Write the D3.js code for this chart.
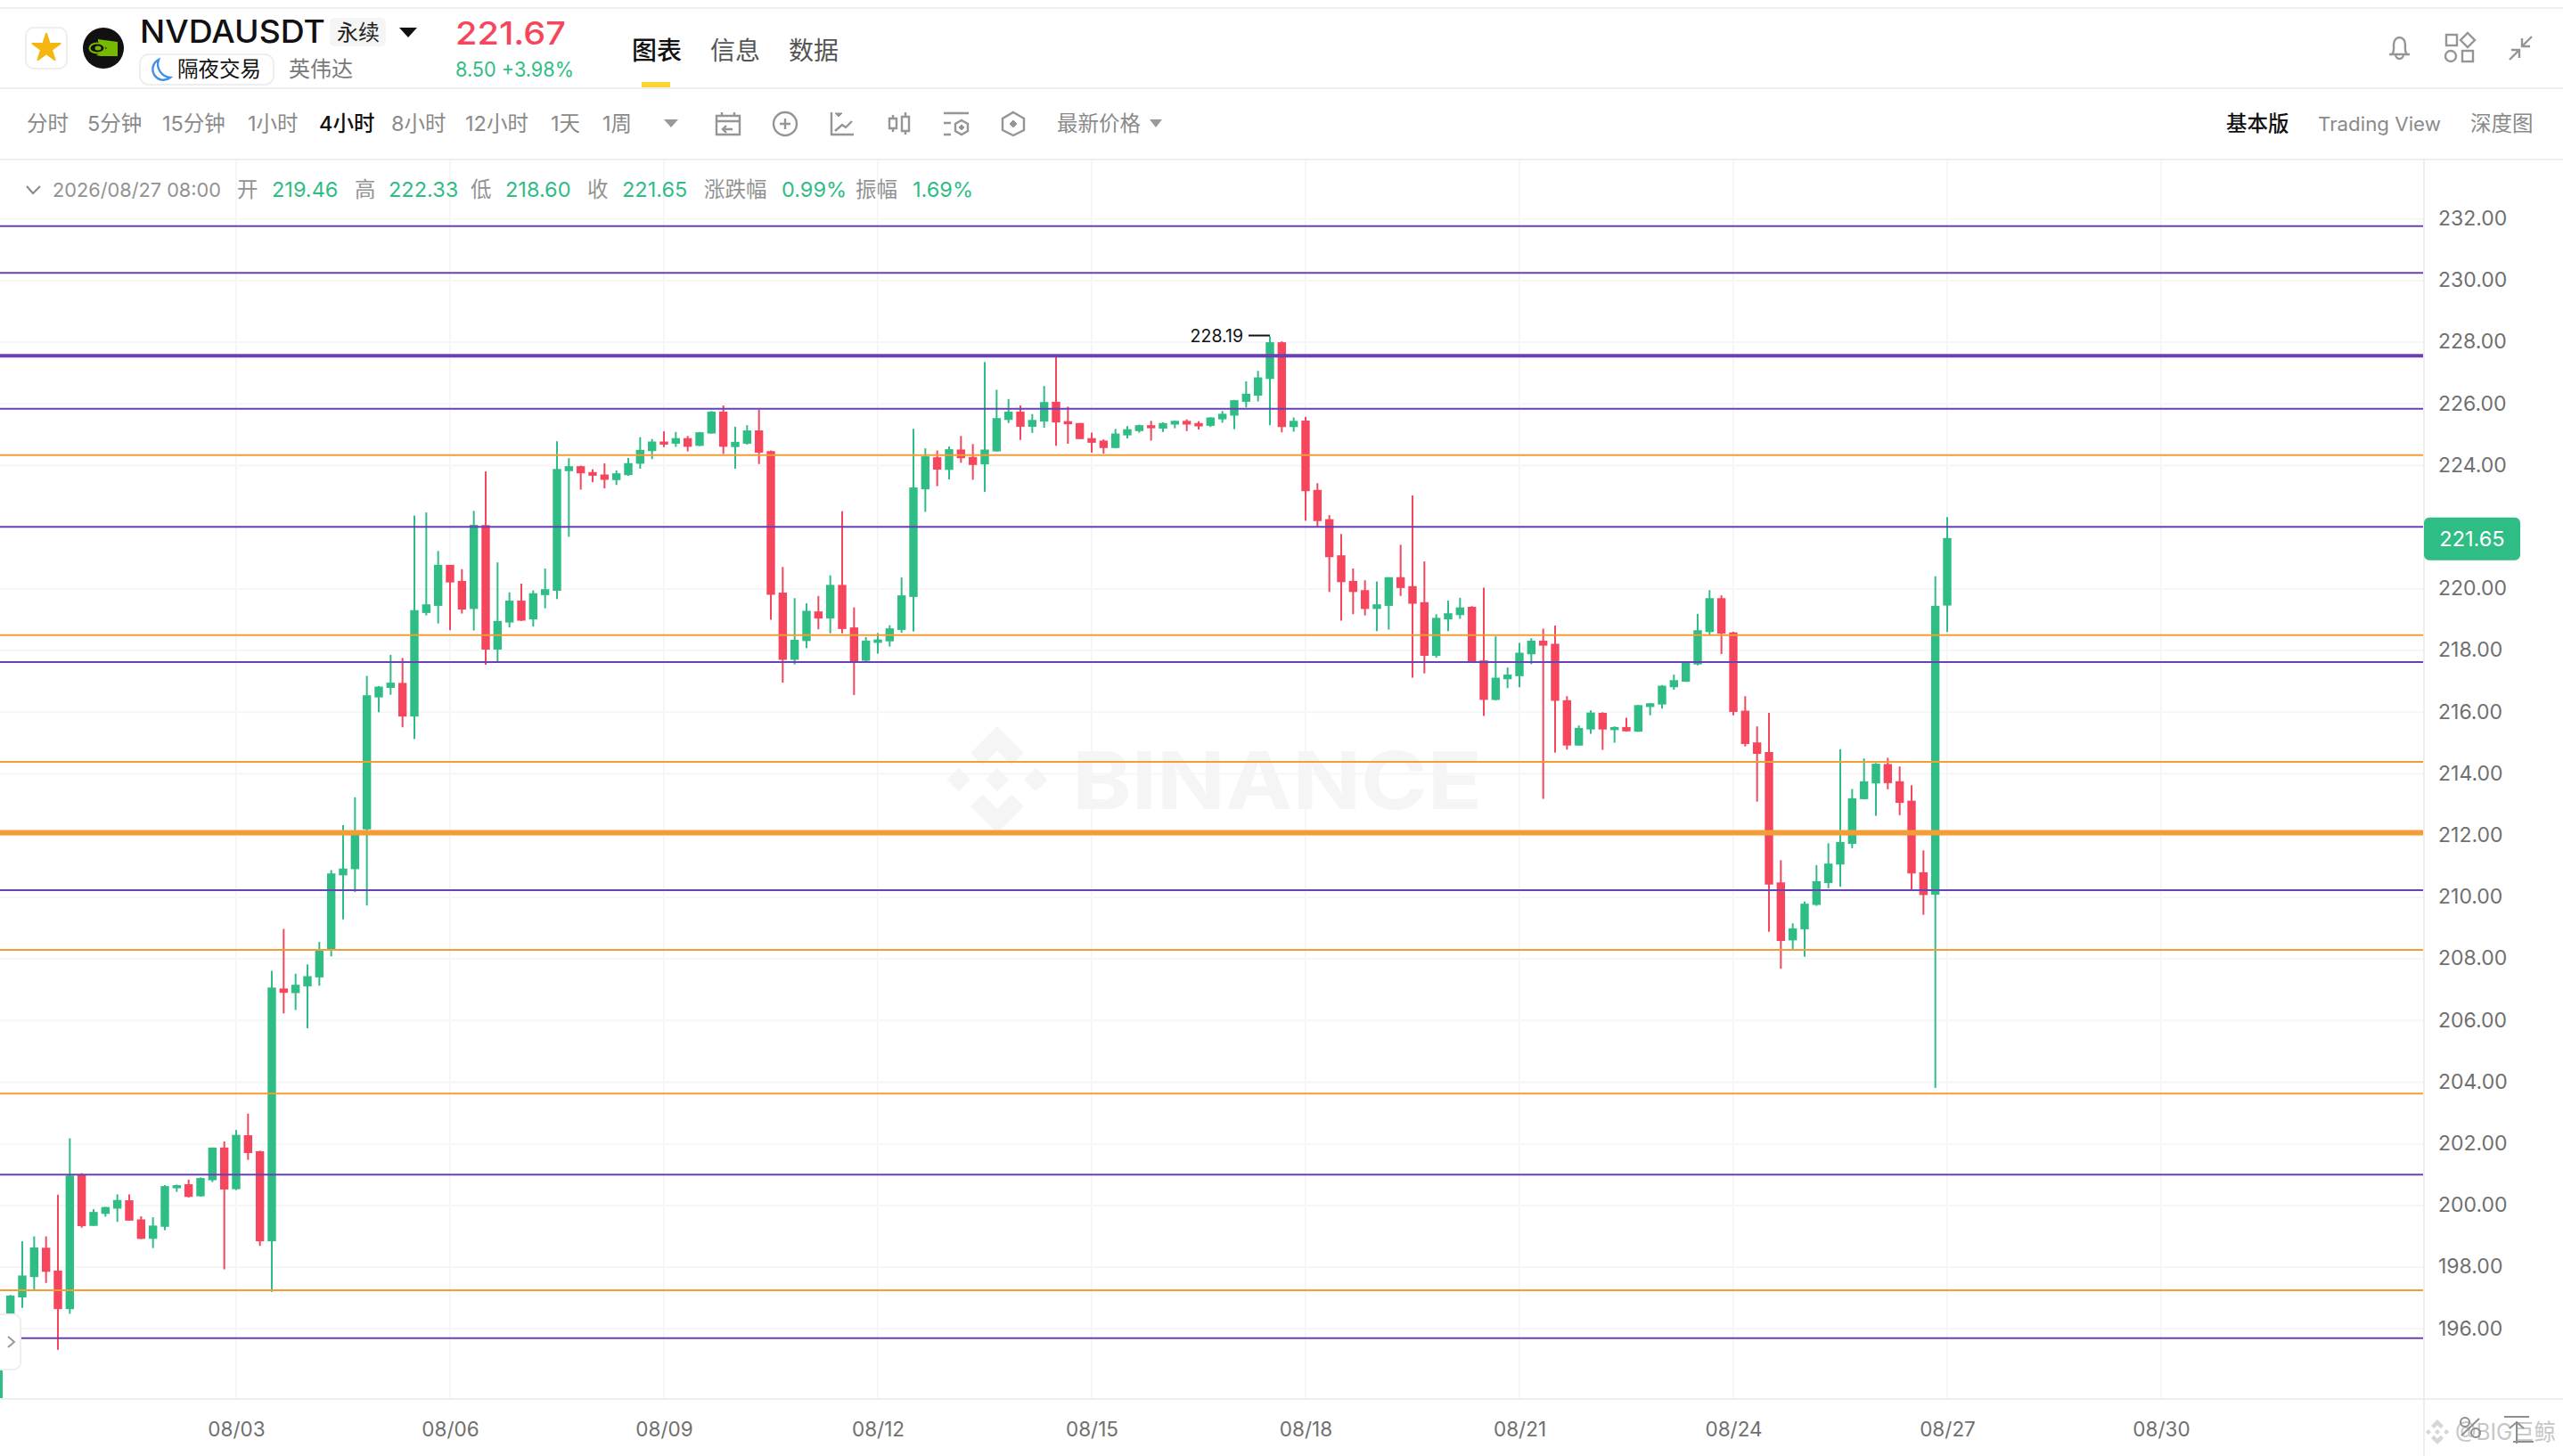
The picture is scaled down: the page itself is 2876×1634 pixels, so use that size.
<!DOCTYPE html>
<html><head><meta charset="utf-8">
<script src="https://cdn.jsdelivr.net/npm/d3@7/dist/d3.min.js"></script>
<style>
html,body{margin:0;padding:0;background:#fff;overflow:hidden}
svg{display:block}
text{font-family:"Inter","Noto Sans CJK SC",sans-serif}
</style></head><body>
<script>
const opens=[193.50,196.40,197.02,197.68,198.63,197.89,196.64,200.99,199.34,199.73,
199.90,200.17,199.55,198.92,199.31,200.56,200.69,200.30,200.82,201.88,
200.53,202.28,201.76,198.84,207.04,206.89,207.11,207.40,208.29,210.71,
210.91,212.20,216.48,216.79,216.95,215.86,219.22,219.45,220.78,220.26,
219.35,222.07,218.03,218.91,219.62,219.01,219.80,219.94,223.82,223.98,
223.79,223.71,223.53,223.69,224.06,224.47,224.78,224.71,224.89,224.64,
225.04,225.75,224.60,224.71,225.14,224.47,219.88,217.70,218.31,219.27,
219.04,220.13,218.75,217.67,218.25,218.30,218.67,219.74,223.23,224.27,
223.86,224.52,224.28,224.04,224.46,225.48,225.75,225.26,225.43,226.07,
225.44,225.38,224.89,224.81,224.57,224.98,225.12,225.31,225.20,225.33,
225.45,225.38,225.29,225.50,225.62,226.07,226.27,226.81,228.00,225.25,
225.46,223.21,222.26,221.09,220.26,219.96,219.35,219.45,220.38,220.09,
219.57,217.83,219.01,219.15,219.42,217.68,216.40,217.07,217.17,217.88,
218.32,218.22,216.39,214.92,215.44,215.98,215.42,215.52,215.37,216.17,
216.25,216.81,216.99,217.55,218.60,219.70,218.59,216.05,215.02,214.71,
210.48,208.60,208.96,209.75,210.46,211.06,211.73,213.18,213.69,214.32,
213.76,213.13,210.81,210.08,219.46];
const highs=[196.35,197.10,198.84,199.00,199.00,200.35,202.18,201.05,199.88,199.96,
200.36,200.36,199.65,199.62,200.66,200.68,200.84,200.91,201.88,202.08,
202.45,202.98,201.78,207.61,208.97,207.52,207.82,208.55,210.88,212.34,
213.24,217.18,216.85,217.86,217.76,222.38,222.48,221.23,220.78,220.64,
222.53,223.81,220.86,219.89,220.17,219.95,220.66,224.79,224.24,224.00,
223.88,224.07,223.84,224.25,224.92,224.86,225.11,225.09,224.96,225.09,
225.77,225.95,225.26,225.31,225.81,224.49,220.71,219.70,219.53,219.77,
220.44,222.52,219.40,218.44,218.57,218.82,220.37,225.19,224.56,224.49,
224.62,224.96,224.70,227.36,226.46,226.16,225.95,225.67,226.58,227.52,
225.91,225.38,225.07,224.85,225.19,225.28,225.33,225.45,225.40,225.46,
225.50,225.44,225.57,225.77,226.13,226.73,227.07,228.19,228.03,225.56,
225.58,223.43,222.39,221.78,220.66,220.28,220.24,220.38,221.43,223.03,
220.89,219.18,219.62,219.71,219.44,220.04,218.46,217.45,218.25,218.40,
218.71,218.81,216.52,215.57,216.06,216.00,215.54,215.82,216.24,216.30,
216.88,217.22,217.64,219.19,219.96,219.79,218.61,216.52,215.54,215.98,
211.20,209.15,209.86,211.04,211.75,214.80,213.51,214.50,214.35,214.52,
214.24,213.63,211.52,220.41,222.33];
const lows=[193.50,196.00,196.68,197.28,197.49,195.32,196.49,199.28,199.34,199.64,
199.47,199.51,198.91,198.62,199.20,200.44,200.26,200.29,200.76,197.93,
200.50,201.48,198.69,197.20,206.23,206.34,205.75,207.13,208.08,209.28,
210.17,209.73,216.00,216.57,215.51,215.13,219.14,218.88,218.66,219.20,
218.65,217.54,217.63,218.75,218.96,218.78,219.37,219.67,221.69,223.22,
223.46,223.26,223.37,223.67,223.90,224.21,224.60,224.61,224.46,224.63,
225.04,224.38,223.90,224.68,224.05,219.00,216.96,217.55,218.08,218.69,
218.56,218.56,216.56,217.63,217.90,218.13,218.58,218.62,222.50,223.33,
223.55,224.09,223.54,223.15,224.45,225.38,224.83,225.06,225.23,224.64,
224.71,224.86,224.42,224.39,224.56,224.88,225.07,224.81,225.09,225.21,
225.12,225.17,225.25,225.39,225.18,225.89,226.08,225.31,225.08,225.10,
222.21,221.99,219.90,218.97,219.18,219.14,218.63,218.68,219.77,217.12,
217.26,217.77,218.63,219.03,217.60,215.88,216.38,216.78,216.81,217.56,
213.19,214.69,214.79,214.91,215.30,214.78,215.01,215.37,215.36,215.90,
216.12,216.73,216.98,217.52,218.48,217.89,215.90,214.89,213.10,208.88,
207.68,208.29,208.07,209.72,210.29,210.34,211.59,213.17,212.64,213.50,
212.66,210.25,209.43,203.81,218.60];
const closes=[196.30,197.08,197.73,198.64,197.85,196.64,200.97,199.33,199.79,199.95,
200.18,199.51,198.92,199.35,200.63,200.66,200.28,200.89,201.88,200.52,
202.29,201.70,198.84,207.07,206.90,207.16,207.44,208.28,210.77,210.93,
212.05,216.55,216.83,216.96,215.86,219.31,219.50,220.78,220.21,219.33,
222.08,218.03,218.96,219.62,218.97,219.86,219.99,223.89,223.98,223.75,
223.67,223.54,223.75,224.08,224.51,224.78,224.68,224.89,224.61,225.08,
225.75,224.61,224.77,225.14,224.42,219.81,217.70,218.35,219.29,219.04,
220.13,218.70,217.65,218.32,218.36,218.72,219.79,223.29,224.30,223.87,
224.53,224.24,224.02,224.52,225.54,225.75,225.26,225.48,226.06,225.40,
225.34,224.86,224.74,224.57,225.04,225.18,225.31,225.21,225.38,225.45,
225.33,225.27,225.56,225.68,226.12,226.33,226.86,228.00,225.25,225.45,
223.17,222.20,221.03,220.22,219.90,219.35,219.50,220.38,220.03,219.52,
217.83,219.06,219.21,219.40,217.63,216.40,217.12,217.22,217.93,218.32,
218.16,216.37,214.92,215.49,215.99,215.44,215.52,215.38,216.23,216.29,
216.86,217.04,217.62,218.66,219.70,218.55,216.01,214.97,214.65,210.41,
208.58,208.99,209.79,210.52,211.09,211.79,213.21,213.76,214.33,213.70,
213.06,210.77,210.07,219.45,221.65];
const purpleLevels=[231.77,230.25,225.84,222.01,217.63,210.23,201.00,195.70];
const orangeLevels=[224.34,218.50,214.39,208.29,203.63,197.25];
const purpleHeavy=[227.56];
const orangeHeavy=[212.09];
const gridPrices=d3.range(196,233,2);
const priceTicks=[196,198,200,202,204,206,208,210,212,214,216,218,220,224,226,228,230,232];
const dateIndex=[20,38,56,74,92,110,128,146,164,182];
const dateLabels=["08/03","08/06","08/09","08/12","08/15","08/18","08/21","08/24","08/27","08/30"];
const maxPrice=228.19, lastPrice=221.65;
const timeframes=[["分时",30],["5分钟",98],["15分钟",182],["1小时",278],["4小时",358],["8小时",439],["12小时",522],["1天",618],["1周",676]];
const infoItems=[["开",266,0],["219.46",305,1],["高",398,0],["222.33",436,1],["低",528,0],["218.60",567,1],["收",659,0],["221.65",698,1],["涨跌幅",790,0],["0.99%",877,1],["振幅",960,0],["1.69%",1024,1]];

const W=2876,H=1634, plotR=2720, plotB=1570, plotT=180;
const GREEN="#2ebd85",RED="#f6465d",PURPLE="#6a40b6",ORANGE="#f59d35",GRID="#f6f6f6",RULE="#eeeeee",ICON="#959595";
const svg=d3.select("body").append("svg").attr("width",W).attr("height",H).attr("viewBox",`0 0 ${W} ${H}`);
const x=d3.scaleLinear().domain([0,215]).range([-1.67,2865]);
const y=d3.scaleLinear().domain([196,232]).range([1491.3,245.7]);

function txt(s,px,py,size,fill,opt={}){
  const t=svg.append("text").attr("x",px).attr("y",py).attr("font-size",size).attr("fill",fill).text(s);
  if(opt.weight)t.attr("font-weight",opt.weight);
  if(opt.anchor)t.attr("text-anchor",opt.anchor);
  if(opt.len)t.attr("textLength",opt.len).attr("lengthAdjust","spacingAndGlyphs");
  return t;
}
function logo(g,s,c){
  const d=(cx,cy,r)=>`M${cx},${cy-r}L${cx+r},${cy}L${cx},${cy+r}L${cx-r},${cy}Z`;
  g.append("path").attr("fill",c).attr("fill-rule","evenodd").attr("d",
    d(0,0,s*.22)+d(-s*.72,0,s*.22)+d(s*.72,0,s*.22)+
    `M0,${-s}L${s*.5},${-s*.5}L${s*.27},${-s*.27}L0,${-s*.54}L${-s*.27},${-s*.27}L${-s*.5},${-s*.5}Z`+
    `M0,${s}L${s*.5},${s*.5}L${s*.27},${s*.27}L0,${s*.54}L${-s*.27},${s*.27}L${-s*.5},${s*.5}Z`);
}

// grid
const grid=svg.append("g");
grid.selectAll("line.h").data(gridPrices).join("line").attr("class","h").attr("x1",0).attr("x2",plotR).attr("y1",d=>y(d)).attr("y2",d=>y(d)).attr("stroke",GRID).attr("stroke-width",2);
grid.selectAll("line.v").data(dateIndex).join("line").attr("class","v").attr("x1",d=>x(d)).attr("x2",d=>x(d)).attr("y1",plotT).attr("y2",plotB).attr("stroke",GRID).attr("stroke-width",2);

// watermark
const wm=svg.append("g").attr("transform","translate(1119,875)");
logo(wm,60,"#f5f5f5");
txt("BINANCE",1203,908,90,"#f5f5f5",{weight:700,len:460});

// clip
svg.append("defs").append("clipPath").attr("id","plot").append("rect").attr("x",0).attr("y",plotT).attr("width",plotR).attr("height",plotB-plotT);
const candles=svg.append("g").attr("clip-path","url(#plot)");
const idx=d3.range(opens.length);
const col=i=>closes[i]>=opens[i]?GREEN:RED;
candles.selectAll("line.w").data(idx).join("line").attr("class","w")
  .attr("x1",i=>x(i)).attr("x2",i=>x(i)).attr("y1",i=>y(highs[i])).attr("y2",i=>y(lows[i])).attr("stroke",col).attr("stroke-width",2);
candles.selectAll("rect.b").data(idx).join("rect").attr("class","b")
  .attr("x",i=>x(i)-4.7).attr("width",9.4)
  .attr("y",i=>y(Math.max(opens[i],closes[i])))
  .attr("height",i=>Math.max(2,Math.abs(y(opens[i])-y(closes[i])))).attr("fill",col);

// level lines
const levels=svg.append("g").attr("clip-path","url(#plot)");
function lv(data,c,w){levels.append("g").selectAll("line").data(data).join("line").attr("x1",0).attr("x2",plotR).attr("y1",d=>y(d)).attr("y2",d=>y(d)).attr("stroke",c).attr("stroke-width",w);}
lv(purpleLevels,PURPLE,2);lv(orangeLevels,ORANGE,2);lv(purpleHeavy,PURPLE,4);lv(orangeHeavy,ORANGE,6);

// high marker
const hi=highs.indexOf(maxPrice);
svg.append("line").attr("x1",x(hi)-24).attr("x2",x(hi)).attr("y1",y(maxPrice)-1).attr("y2",y(maxPrice)-1).attr("stroke","#111").attr("stroke-width",2);
txt(d3.format(".2f")(maxPrice),x(hi)-30,y(maxPrice)+6,19.5,"#111",{anchor:"end"});

// axes
const axY=d3.axisRight(y).tickValues(priceTicks).tickSize(0).tickPadding(0).tickFormat(d3.format(".2f"));
const gy=svg.append("g").attr("transform","translate(2736,-0.5)").call(axY);
gy.select(".domain").remove();
gy.selectAll("text").attr("font-size",23).attr("fill","#6f6f6f").attr("style",'font-family:"Inter"');
const axX=d3.axisBottom(x).tickValues(dateIndex).tickSize(0).tickPadding(26).tickFormat((d,i)=>dateLabels[i]);
const gx=svg.append("g").attr("transform",`translate(0,${plotB})`).call(axX);
gx.select(".domain").remove();
gx.selectAll("text").attr("font-size",22.5).attr("fill","#6f6f6f").attr("style",'font-family:"Inter"');
svg.append("line").attr("x1",0).attr("x2",W).attr("y1",plotB).attr("y2",plotB).attr("stroke",RULE).attr("stroke-width",2);
svg.append("line").attr("x1",plotR).attr("x2",plotR).attr("y1",plotT).attr("y2",H).attr("stroke",RULE).attr("stroke-width",2);

// last price pill
svg.append("rect").attr("x",plotR).attr("y",y(lastPrice)-23).attr("width",108).attr("height",48).attr("rx",6).attr("fill",GREEN);
txt(d3.format(".2f")(lastPrice),plotR+54,y(lastPrice)+9,23.5,"#fff",{anchor:"middle"});

// expand handle
svg.append("rect").attr("x",-8).attr("y",1475).attr("width",31).attr("height",62).attr("rx",8).attr("fill","#fff").attr("stroke","#eeeeee").attr("stroke-width",2);
svg.append("path").attr("d","M9,1500l7,6l-7,6").attr("fill","none").attr("stroke","#999").attr("stroke-width",2);

// chrome rules
const rule=(yy)=>svg.append("line").attr("x1",0).attr("x2",W).attr("y1",yy).attr("y2",yy).attr("stroke",RULE).attr("stroke-width",2);
rule(9);rule(99);rule(179);

// header
svg.append("rect").attr("x",29).attr("y",31).attr("width",46).attr("height",46).attr("rx",9).attr("fill","#fff").attr("stroke",RULE).attr("stroke-width",2);
svg.append("path").attr("transform","translate(52,54)").attr("d",d3.symbol().type(d3.symbolStar).size(300)()).attr("fill","#f5b70f").attr("stroke","#f5b70f").attr("stroke-width",2).attr("stroke-linejoin","round");
svg.append("circle").attr("cx",116).attr("cy",54).attr("r",23).attr("fill","#111");
svg.append("path").attr("d","M110,44L132,47V63H113L108,62L120,54L110,47Z").attr("fill","#76b900");
svg.append("ellipse").attr("cx",109).attr("cy",54).attr("rx",8.5).attr("ry",5.5).attr("fill","#111").attr("stroke","#76b900").attr("stroke-width",2);
svg.append("ellipse").attr("cx",110).attr("cy",54).attr("rx",3.5).attr("ry",2.5).attr("fill","#76b900");
txt("NVDAUSDT",157,48,35,"#111",{weight:500,len:208});
svg.append("rect").attr("x",370).attr("y",20).attr("width",63).attr("height",32).attr("rx",5).attr("fill","#f5f5f5");
txt("永续",378,45,24,"#222");
svg.append("path").attr("d","M448,31H468L458,42Z").attr("fill","#111");
txt("221.67",511,50,36,RED,{weight:500,len:124});
txt("8.50 +3.98%",511,86,22.5,GREEN,{len:133});
svg.append("rect").attr("x",157).attr("y",61).attr("width",150).attr("height",34).attr("rx",10).attr("fill","#fff").attr("stroke",RULE).attr("stroke-width",2);
svg.append("path").attr("d","M178,67A12,12 0 1 0 191,87A15,15 0 0 1 178,67Z").attr("fill","none").attr("stroke","#3d8fe8").attr("stroke-width",2.4);
txt("隔夜交易",199,86,23.5,"#111");
txt("英伟达",324,86,24,"#7a7a7a");
txt("图表",709,67,28,"#111",{weight:500});
txt("信息",797,67,28,"#555");
txt("数据",885,67,28,"#555");
svg.append("rect").attr("x",720).attr("y",92).attr("width",32).attr("height",6).attr("fill","#fcd535");

// toolbar
timeframes.forEach(([s,px],i)=>txt(s,px,147,23.5,i===4?"#111":"#8a8a8a",i===4?{weight:500}:{}));
svg.append("path").attr("d","M745,134H761L753,143Z").attr("fill","#999");
const ic=svg.append("g").attr("fill","none").attr("stroke",ICON).attr("stroke-width",2.4);
ic.append("path").attr("d","M804,130H830V151H804ZM804,136H830M810,126V130M824,126V130M822,145H811M815,141l-4,4l4,4");
ic.append("circle").attr("cx",881).attr("cy",139).attr("r",13);
ic.append("path").attr("d","M875,139H887M881,133V145");
ic.append("path").attr("d","M933,126V151H958M937,147l8,-7l4,3l7,-7");
ic.append("path").attr("d","M937,127h8l-4,4Z").attr("fill",ICON).attr("stroke-width",1);
ic.append("path").attr("d","M998,133H1006V144H998ZM1002,129V133M1002,144V148M1012,131H1020V147H1012ZM1016,126V131M1016,147V151");
ic.append("path").attr("d","M1059,127H1087M1059,138H1067M1059,151H1067M1079,135L1086,139V147L1079,151L1072,147V139Z");
ic.append("path").attr("d","M1079,140l3,3l-3,3l-3,-3Z").attr("fill",ICON).attr("stroke-width",1);
ic.append("path").attr("d","M1137,126L1149,133V146L1137,152L1125,146V133Z");
ic.append("path").attr("d","M1137,135l4,4l-4,4l-4,-4Z").attr("fill",ICON).attr("stroke-width",1);
txt("最新价格",1186,147,23.5,"#8a8a8a");
svg.append("path").attr("d","M1290,134H1304L1297,143Z").attr("fill","#999");
txt("基本版",2498,147,23.5,"#111",{weight:500});
txt("Trading View",2601,147,21.5,"#8a8a8a",{len:138});
txt("深度图",2772,147,23.5,"#8a8a8a");
const ir=svg.append("g").attr("fill","none").attr("stroke",ICON).attr("stroke-width",2.4);
ir.append("path").attr("d","M2681,61H2704M2684,61C2687,58 2686,54 2686,50A6.5,8 0 0 1 2699,50C2699,54 2698,58 2701,61M2688,61A4.5,5 0 0 0 2697,61");
ir.append("rect").attr("x",2745).attr("y",39).attr("width",12).attr("height",12);
ir.append("path").attr("d","M2769,37l8,8l-8,8l-8,-8Z");
ir.append("circle").attr("cx",2750).attr("cy",63).attr("r",6);
ir.append("rect").attr("x",2763).attr("y",57).attr("width",12).attr("height",12);
ir.append("path").attr("d","M2841,41L2830,52M2830,43V52H2839M2816,67L2827,56M2818,56H2827V65");

// info line
svg.append("path").attr("d","M30,209l7,8l8,-8").attr("fill","none").attr("stroke","#888").attr("stroke-width",2);
txt("2026/08/27 08:00",59,221,21.6,"#929292",{len:189});
infoItems.forEach(([s,px,g])=>txt(s,px,221,g?23.5:23.5,g?GREEN:"#929292"));

// corner watermark
const cw=svg.append("g").attr("transform","translate(2735,1607)");
logo(cw,14,"#d6d6d6");
txt("@BIG巨鲸",2755,1616,25,"#c6c6c6",{len:113});
const cr=svg.append("g").attr("fill","none").attr("stroke","#8e8e8e").attr("stroke-width",2);
cr.append("path").attr("d","M2762,1611L2782,1592");
cr.append("circle").attr("cx",2766).attr("cy",1596).attr("r",5);
cr.append("circle").attr("cx",2778).attr("cy",1608).attr("r",5);
cr.append("path").attr("d","M2810,1590H2838M2824,1620V1596M2816,1603l8,-7l8,7");
cr.append("path").attr("d","M2820,1618H2843");
</script>
</body></html>
